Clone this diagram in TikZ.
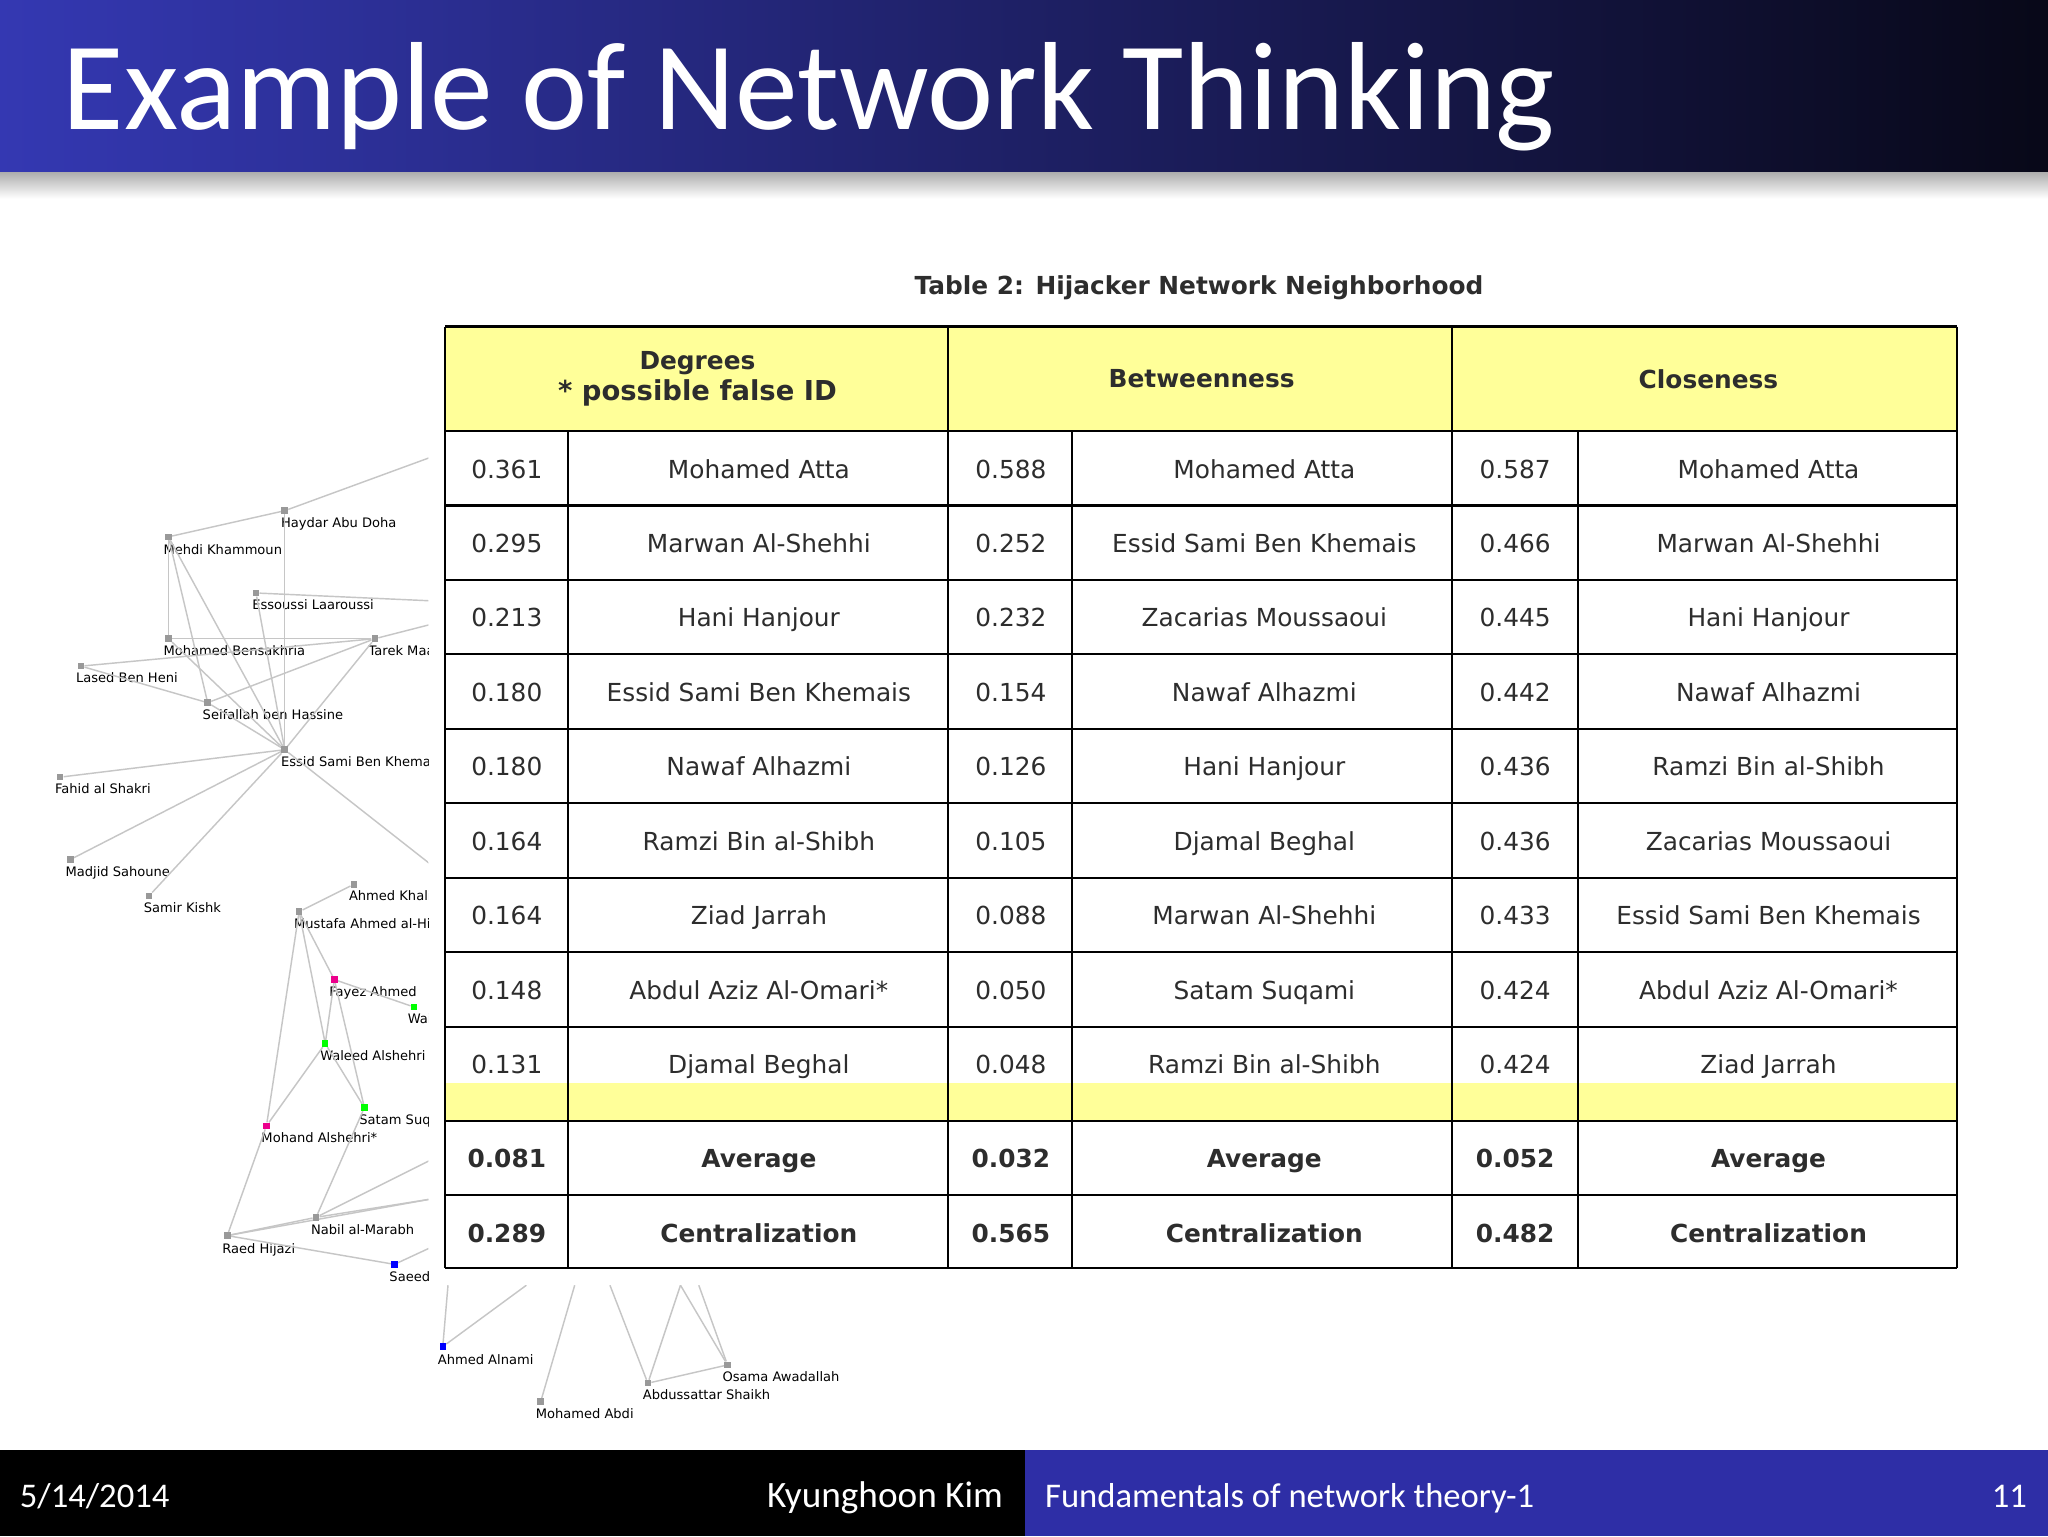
\documentclass[tikz,border=0pt]{standalone}
\usepackage{fontspec}
\setmainfont{DejaVu Sans}
\newfontfamily\calib{Carlito}
\definecolor{tleft}{RGB}{52,56,178}
\definecolor{tright}{RGB}{8,8,24}
\definecolor{fblue}{RGB}{46,46,166}
\definecolor{tyel}{RGB}{255,255,153}
\definecolor{ttext}{RGB}{45,45,45}
\begin{document}
\begin{tikzpicture}[x=1pt,y=-1pt,
  nd/.style={fill=gray!80,inner sep=0pt,minimum size=5pt},
  lb/.style={anchor=north west,inner sep=0pt,font=\fontsize{10}{12}\selectfont},
  ed/.style={draw=gray!45,line width=1.1pt},
  cell/.style={inner sep=0pt,text=ttext,font=\fontsize{19}{22}\selectfont},
  bcell/.style={inner sep=0pt,text=ttext,font=\fontsize{19}{22}\selectfont\bfseries},
  tl/.style={line width=1.6pt}]
\useasboundingbox (0,0) rectangle (1568,1176);
\fill[white] (0,0) rectangle (1568,1176);
% title bar
\shade[top color=gray!70,bottom color=white] (0,130) rectangle (1568,152);
\shade[left color=tleft,right color=tright] (0,0) rectangle (1568,131);
\node[anchor=base west,inner sep=0pt,text=white,font=\calib\fontsize{96}{100}\selectfont] (title) at (48,99) {Example of Network Thinking};
% footer
\fill[black] (0,1110) rectangle (785,1176);
\fill[fblue] (785,1110) rectangle (1568,1176);
\node[anchor=base west,inner sep=0pt,text=white,font=\calib\fontsize{26.5}{30}\selectfont] (f1) at (15,1154) {5/14/2014};
\node[anchor=base east,inner sep=0pt,text=white,font=\calib\fontsize{28.5}{30}\selectfont] (f2) at (768,1154) {Kyunghoon Kim};
\node[anchor=base west,inner sep=0pt,text=white,font=\calib\fontsize{26.5}{30}\selectfont] (f3) at (800,1154) {Fundamentals of network theory-1};
\node[anchor=base east,inner sep=0pt,text=white,font=\calib\fontsize{26.5}{30}\selectfont] (f4) at (1552,1154) {11};
% network
\begin{scope}
\clip (0,150) rectangle (328,985) (328,984) rectangle (700,1110);
\node[nd] (hay) at (218,391) {}; \node[lb] at (215,396) {Haydar Abu Doha};
\node[nd] (meh) at (129,411) {}; \node[lb] at (125,417) {Mehdi Khammoun};
\node[nd] (ess) at (196,454) {}; \node[lb] at (193,459) {Essoussi Laaroussi};
\node[nd] (mob) at (129,489) {}; \node[lb] at (125,494) {Mohamed Bensakhria};
\node[nd] (tar) at (287,489) {}; \node[lb] at (282,494) {Tarek Maaroufi};
\node[nd] (las) at (62,510) {}; \node[lb] at (58,515) {Lased Ben Heni};
\node[nd] (sei) at (159,538) {}; \node[lb] at (155,543) {Seifallah ben Hassine};
\node[nd] (esk) at (218,574) {}; \node[lb] at (215,579) {Essid Sami Ben Khemais};
\node[nd] (fah) at (46,595) {}; \node[lb] at (42,600) {Fahid al Shakri};
\node[nd] (mad) at (54,658) {}; \node[lb] at (50,663) {Madjid Sahoune};
\node[nd] (sam) at (114,686) {}; \node[lb] at (110,691) {Samir Kishk};
\node[nd] (ahk) at (271,677) {}; \node[lb] at (267,682) {Ahmed Khalil};
\node[nd] (mus) at (229,698) {}; \node[lb] at (225,703) {Mustafa Ahmed al-Hisawi};
\node[nd,fill=magenta] (fay) at (256,750) {}; \node[lb] at (252,755) {Fayez Ahmed};
\node[nd,fill=green] (wai) at (317,771) {}; \node[lb] at (312,776) {Wail Alshehri};
\node[nd,fill=green] (wal) at (249,799) {}; \node[lb] at (245,804) {Waleed Alshehri};
\node[nd,fill=green] (sat) at (279,848) {}; \node[lb] at (275,853) {Satam Suqami};
\node[nd,fill=magenta] (moh) at (204,862) {}; \node[lb] at (200,867) {Mohand Alshehri*};
\node[nd] (nab) at (242,932) {}; \node[lb] at (238,937) {Nabil al-Marabh};
\node[nd] (rae) at (174,946) {}; \node[lb] at (170,952) {Raed Hijazi};
\node[nd,fill=blue] (sae) at (302,968) {}; \node[lb] at (298,973) {Saeed Alghamdi};
\node[nd,fill=blue] (aln) at (339,1031) {}; \node[lb] at (335,1037) {Ahmed Alnami};
\node[nd] (abd) at (414,1073) {}; \node[lb] at (410,1078) {Mohamed Abdi};
\node[nd] (abs) at (496,1059) {}; \node[lb] at (492,1064) {Abdussattar Shaikh};
\node[nd] (osa) at (557,1045) {}; \node[lb] at (553,1050) {Osama Awadallah};
\coordinate (o1) at (330,350); \coordinate (o2) at (330,460);
\coordinate (o3) at (330,478); \coordinate (o4) at (330,662);
\coordinate (o5) at (330,918); \coordinate (o6) at (330,955);
\coordinate (o7) at (343,984); \coordinate (o8) at (403,984);
\coordinate (o9) at (440,984); \coordinate (o10) at (467,984);
\coordinate (o11) at (521,984); \coordinate (o12) at (535,984);
\coordinate (o13) at (330,888);
\foreach \a/\b in {hay/o1,hay/meh,meh/mob,meh/esk,meh/sei,ess/esk,ess/o2,mob/tar,las/tar,mob/esk,sei/tar,sei/esk,hay/esk,tar/esk,tar/o3,las/sei,esk/fah,esk/mad,esk/sam,esk/o4,mus/fay,mus/wal,mus/ahk,fay/wai,fay/wal,wal/sat,moh/mus,moh/wal,sat/nab,moh/rae,nab/rae,rae/o5,nab/o5,rae/sae,sae/o6,fay/sat,nab/o13,aln/o7,aln/o8,abd/o9,abs/o10,abs/o11,osa/o11,osa/o12,abs/osa}
  \draw[ed] (\a) -- (\b);
\foreach \n in {hay,meh,ess,mob,tar,las,sei,esk,fah,mad,sam,ahk,mus,nab,rae,abd,abs,osa} \node[nd] at (\n) {};
\node[nd,fill=magenta] at (fay) {}; \node[nd,fill=magenta] at (moh) {};
\node[nd,fill=green] at (wai) {}; \node[nd,fill=green] at (wal) {}; \node[nd,fill=green] at (sat) {};
\node[nd,fill=blue] at (sae) {}; \node[nd,fill=blue] at (aln) {};
\end{scope}
% table
\node[font=\fontsize{19}{22}\selectfont\bfseries,inner sep=0pt,text=ttext] (cap) at (918,220) {Table 2: Hijacker Network Neighborhood};
\fill[white] (341,250) rectangle (1498,971);
\fill[tyel] (341,250) rectangle (1498,330);
\fill[tyel] (341,829) rectangle (1498,858);
\foreach \x in {341,726,1112,1498} \draw[tl] (\x,250) -- (\x,971);
\foreach \x in {435,821,1208} \draw[tl] (\x,330) -- (\x,971);
\foreach \y in {250,330,387,444,501,558,615,672,729,786,858,915,971} \draw[tl] (341,\y) -- (1498,\y);
\node[bcell] (h1a) at (534,278) {Degrees};
\node[bcell,font=\fontsize{21}{24}\selectfont\bfseries] (h1b) at (534,301) {* possible false ID};
\node[bcell] (h2) at (920,290) {Betweenness};
\node[bcell] (h3) at (1308,290) {Closeness};
\foreach \i/\a/\b/\c/\d/\e/\f in {
1/0.361/Mohamed Atta/0.588/Mohamed Atta/0.587/Mohamed Atta,
2/0.295/Marwan Al-Shehhi/0.252/Essid Sami Ben Khemais/0.466/Marwan Al-Shehhi,
3/0.213/Hani Hanjour/0.232/Zacarias Moussaoui/0.445/Hani Hanjour,
4/0.180/Essid Sami Ben Khemais/0.154/Nawaf Alhazmi/0.442/Nawaf Alhazmi,
5/0.180/Nawaf Alhazmi/0.126/Hani Hanjour/0.436/Ramzi Bin al-Shibh,
6/0.164/Ramzi Bin al-Shibh/0.105/Djamal Beghal/0.436/Zacarias Moussaoui,
7/0.164/Ziad Jarrah/0.088/Marwan Al-Shehhi/0.433/Essid Sami Ben Khemais,
8/0.148/Abdul Aziz Al-Omari*/0.050/Satam Suqami/0.424/Abdul Aziz Al-Omari*,
9/0.131/Djamal Beghal/0.048/Ramzi Bin al-Shibh/0.424/Ziad Jarrah}{
  \pgfmathsetmacro\yy{302+57*\i}
  \node[cell,anchor=base] (r\i a) at (388,\yy+7) {\a};
  \node[cell,anchor=base] (r\i b) at (581,\yy+7) {\b};
  \node[cell,anchor=base] (r\i c) at (774,\yy+7) {\c};
  \node[cell,anchor=base] (r\i d) at (968,\yy+7) {\d};
  \node[cell,anchor=base] (r\i e) at (1160,\yy+7) {\e};
  \node[cell,anchor=base] (r\i f) at (1354,\yy+7) {\f};
}
\foreach \y/\a/\c/\e/\t in {887/0.081/0.032/0.052/Average,944/0.289/0.565/0.482/Centralization}{
  \node[bcell,anchor=base] at (388,\y+7) {\a}; \node[bcell,anchor=base] at (581,\y+7) {\t};
  \node[bcell,anchor=base] at (774,\y+7) {\c}; \node[bcell,anchor=base] at (968,\y+7) {\t};
  \node[bcell,anchor=base] at (1160,\y+7) {\e}; \node[bcell,anchor=base] at (1354,\y+7) {\t};
}
\end{tikzpicture}
\end{document}
